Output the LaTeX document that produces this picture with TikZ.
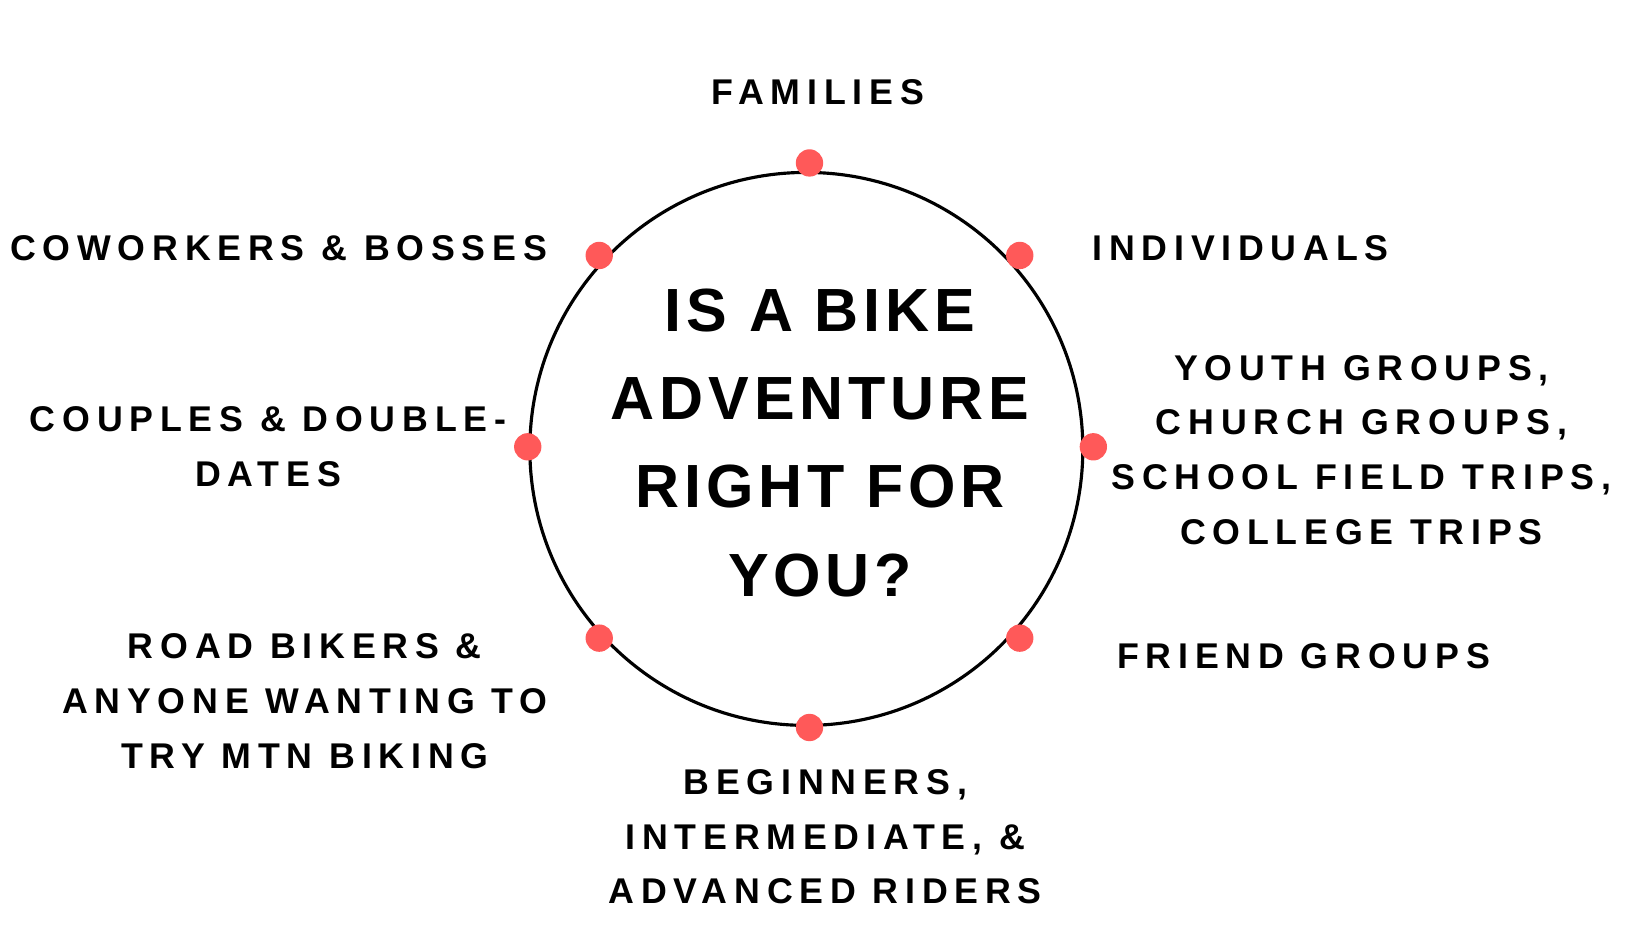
\documentclass[tikz,border=0pt]{standalone}
\usepackage{fontspec}
\newfontfamily\lab[LetterSpace=19]{Liberation Sans Bold}
\newfontfamily\ttl[LetterSpace=8]{Liberation Sans Bold}
\begin{document}
\begin{tikzpicture}[x=1pt,y=-1pt,
  lbl/.style={font=\lab\fontsize{34}{52}\selectfont,align=center,inner sep=0pt},
  dot/.style={circle,fill=red!65!white,inner sep=0pt,minimum size=26pt}]
\useasboundingbox (0,0) rectangle (1560,879);
\fill[white] (0,0) rectangle (1560,879);
\node[circle,draw,line width=3pt,minimum size=526pt] (c) at (767,427) {};
\node[font=\ttl\fontsize{58}{84}\selectfont,align=center] (t) at (780,421) {IS A BIKE\\ADVENTURE\\RIGHT FOR\\YOU?};
\node[dot] (a1) at (770,155) {};
\node[dot] (a2) at (970,243) {};
\node[dot] (a3) at (1040,425) {};
\node[dot] (a4) at (970,607) {};
\node[dot] (a5) at (770,692) {};
\node[dot] (a6) at (570,607) {};
\node[dot] (a7) at (502,425) {};
\node[dot] (a8) at (570,243) {};
\node[lbl] (l1) at (778,88) {FAMILIES};
\node[lbl] (l2) at (1180,236) {INDIVIDUALS};
\node[lbl] (l3) at (1295,428) {YOUTH GROUPS,\\CHURCH GROUPS,\\SCHOOL FIELD TRIPS,\\COLLEGE TRIPS};
\node[lbl] (l4) at (1240,624) {FRIEND GROUPS};
\node[lbl] (l5) at (785,796) {BEGINNERS,\\INTERMEDIATE, \&\\ADVANCED RIDERS};
\node[lbl] (l6) at (290,667) {ROAD BIKERS \&\\ANYONE WANTING TO\\TRY MTN BIKING};
\node[lbl] (l7) at (255,425) {COUPLES \& DOUBLE-\\DATES};
\node[lbl] (l8) at (265,236) {COWORKERS \& BOSSES};
\end{tikzpicture}
\end{document}
